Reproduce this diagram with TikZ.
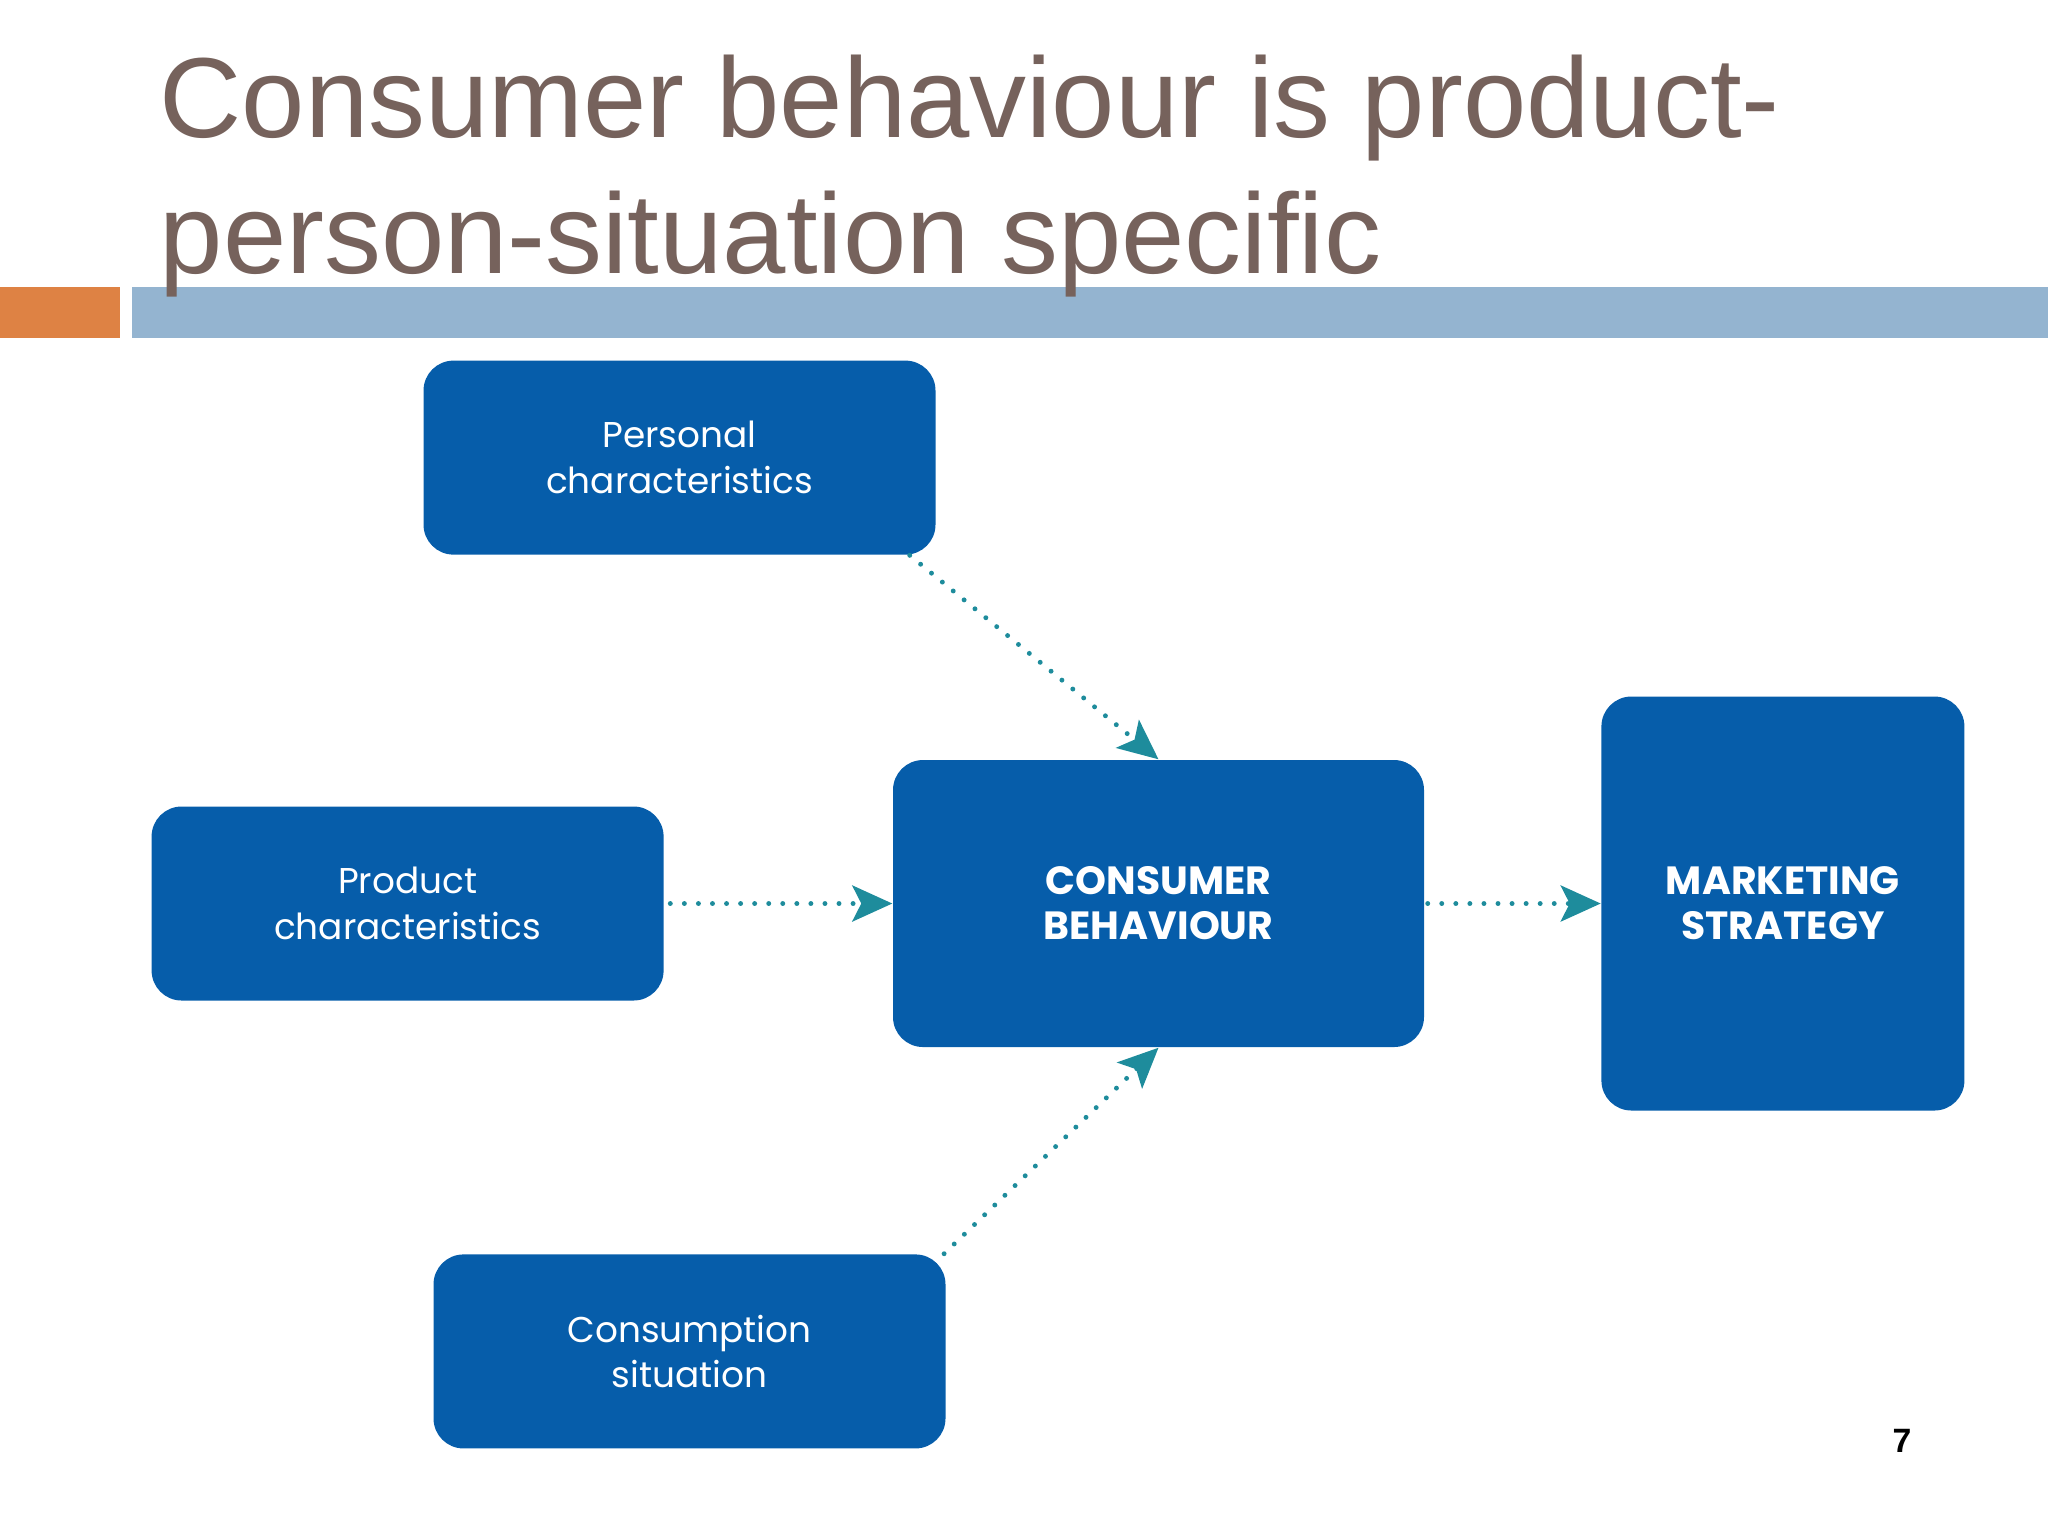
\documentclass[tikz,border=0pt]{standalone}
\usepackage{fontspec}
\setmainfont{Liberation Sans}
\newfontfamily\boxfont{Poppins}
\usepackage{tikz}
\usetikzlibrary{positioning,arrows.meta}
\definecolor{CBBlue}{HTML}{065DAA}
\definecolor{CBTeal}{HTML}{1E8C9C}
\definecolor{TitleBrown}{HTML}{76625C}
\definecolor{BarBlue}{HTML}{94B4D0}
\definecolor{BarOrange}{HTML}{DE8244}

\begin{document}
\begin{tikzpicture}[
  x=0.1mm, y=-0.1mm,
  box/.style={fill=CBBlue, rounded corners=3mm, text=white, align=center, inner sep=0pt, minimum width=51.2mm, minimum height=19.4mm, font=\boxfont\fontsize{10.2}{13}\selectfont},
  bigbox/.style={box, font=\boxfont\bfseries\fontsize{11.2}{12.8}\selectfont},
  arrow/.style={CBTeal, line width=1.4pt, dash pattern=on 0pt off 4pt, line cap=round, -{Stealth[length=4mm,width=3.6mm,inset=0.9mm]}}
]
\useasboundingbox (0,0) rectangle (2048,1536);
\fill[BarOrange] (0,287) rectangle (120,338);
\fill[BarBlue] (132,287) rectangle (2048,338);
\node[anchor=base west, inner sep=0pt, align=left, text=TitleBrown, font=\fontsize{32.4}{38.7}\selectfont] (title) at (159,273) {Consumer behaviour is product-\\person-situation specific};
\node[bigbox, minimum width=53.1mm, minimum height=28.7mm] (cb) at (1158.5,903.5) {CONSUMER\\BEHAVIOUR};
\node[bigbox, minimum width=36.3mm, minimum height=41.4mm, right=17.6mm of cb] (mkt) {MARKETING\\STRATEGY};
\node[box, left=22.8mm of cb] (prod) {Product\\characteristics};
\node[box, above=20.4mm of cb, xshift=-47.9mm] (pers) {Personal\\characteristics};
\node[box, below=20.6mm of cb, xshift=-46.9mm] (cons) {Consumption\\situation};
\draw[arrow] (pers.-23) -- (cb.north);
\draw[arrow] ([xshift=0.6mm]prod.east) -- (cb.west);
\draw[arrow] (cons.21) -- (cb.south);
\draw[arrow] ([xshift=0.3mm]cb.east) -- (mkt.west);
\node[font=\bfseries\fontsize{9.6}{11}\selectfont] (pnum) at (1902,1441) {7};
\end{tikzpicture}
\end{document}
